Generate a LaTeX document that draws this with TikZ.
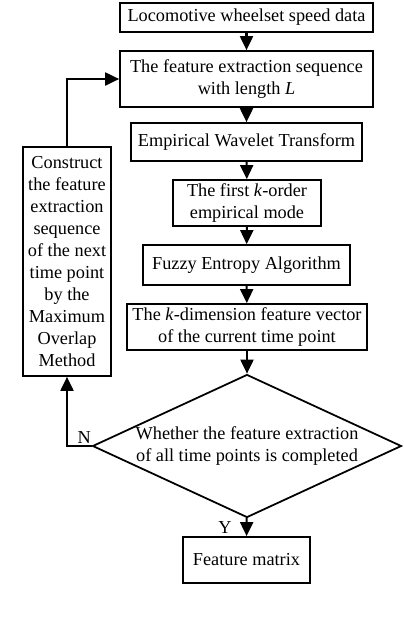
\documentclass[tikz,border=0pt]{standalone}
\usepackage{fontspec}
\setmainfont{Liberation Serif}
\usetikzlibrary{shapes.geometric,arrows.meta}

\begin{document}
\begin{tikzpicture}[x=0.02cm, y=-0.02cm,
		font=\fontsize{10.4}{12.5}\selectfont,
		box/.style={draw, line width=1pt, align=center, inner sep=0pt},
		flow/.style={line width=1.15pt, -{Triangle[length=2.8mm, width=2.6mm]}}]
	\useasboundingbox (0,0) rectangle (404,620);
	% main column
	\node[box, minimum width=5.06cm, minimum height=0.58cm] (speed) at (246.5,17.5) {Locomotive wheelset speed data};
	\node[box, minimum width=5.06cm, minimum height=1.12cm] (seq) at (246.5,79) {The feature extraction sequence\\with length \textit{L}};
	\node[box, minimum width=4.62cm, minimum height=0.76cm] (ewt) at (246.5,142) {Empirical Wavelet Transform};
	\node[box, minimum width=2.96cm, minimum height=0.92cm] (mode) at (247,203) {The first \textit{k}-order\\empirical mode};
	\node[box, minimum width=4.14cm, minimum height=0.80cm] (fuzzy) at (246.5,265) {Fuzzy Entropy Algorithm};
	\node[box, minimum width=4.80cm, minimum height=0.92cm] (vector) at (247,327) {The \textit{k}-dimension feature vector\\of the current time point};
	\node[box, shape=diamond, aspect=2.16, minimum width=6.18cm, minimum height=2.86cm] (check) at (247,446) {Whether the feature extraction\\of all time points is completed};
	\node[box, minimum width=2.54cm, minimum height=0.92cm] (matrix) at (246.5,560) {Feature matrix};
	% loop box
	\node[box, minimum width=1.76cm, minimum height=4.58cm] (overlap) at (67,261.5) {Construct\\the feature\\extraction\\sequence\\of the next\\time point\\by the\\Maximum\\Overlap\\Method};

	\draw[flow] (speed) -- (seq);
	\draw[flow] (seq) -- (ewt);
	\draw[flow] (ewt) -- (mode);
	\draw[flow] (mode) -- (fuzzy);
	\draw[flow] (fuzzy) -- (vector);
	\draw[flow] (vector) -- (check);
	\draw[flow] (check) -- node[left, inner xsep=8pt]{Y} (matrix);
	\draw[flow] (check.west) -| node[pos=0.15, above, inner sep=1pt]{N} (overlap.south);
	\draw[flow] (overlap.north) |- (seq.west);
\end{tikzpicture}
\end{document}
